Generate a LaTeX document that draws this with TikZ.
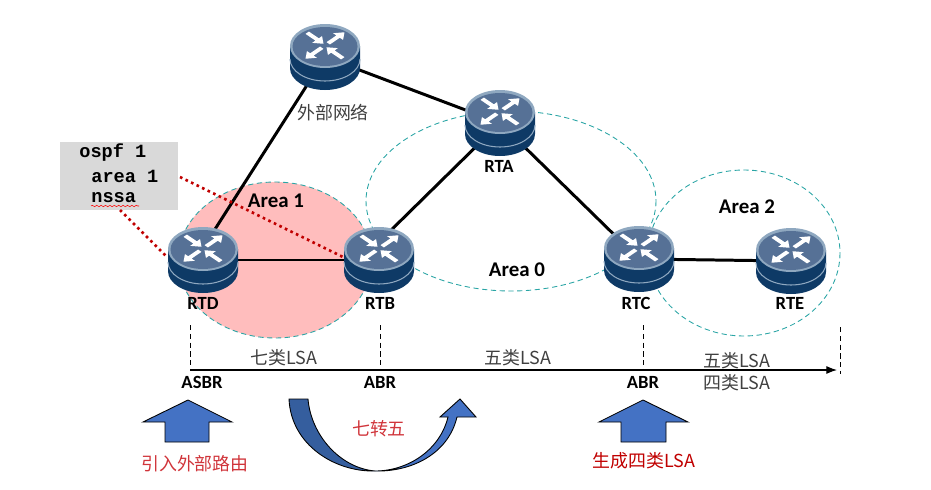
\documentclass[tikz,border=0pt]{standalone}
\usepackage{fontspec}
\setmainfont{Carlito}
\setmonofont{Liberation Mono}
\newfontfamily\cjk{Noto Sans CJK SC}
\usetikzlibrary{arrows.meta,positioning,decorations.pathmorphing}
\definecolor{routertop}{HTML}{567196}
\definecolor{routerrim}{HTML}{8FA8C0}
\definecolor{routerbody}{HTML}{0E3A66}
\definecolor{areateal}{HTML}{2AA5A5}
\definecolor{areapink}{HTML}{FFBDBD}
\definecolor{arrowblue}{HTML}{4472C4}
\definecolor{arrowdark}{HTML}{355E9E}
\definecolor{notered}{HTML}{C00000}
\definecolor{softred}{HTML}{D0343A}
\newcommand{\cjksize}{\fontsize{10.2}{12}\selectfont}
\newcommand{\latinsize}{\fontsize{10.6}{12}\selectfont}
\tikzset{
    area/.style={draw=areateal,line width=0.5pt,dash pattern=on 3pt off 2pt},
    link/.style={line width=1.7pt,black},
    note/.style={line width=1.5pt,notered,dotted},
    rtname/.style={font=\bfseries\latinsize},
    areaname/.style={font=\bfseries\fontsize{11.9}{13}\selectfont},
    tickline/.style={densely dashed,line width=0.4pt},
    lsa/.style={font=\cjk\cjksize,text=black!75},
    redtext/.style={font=\cjk\cjksize,text=softred},
    bluearrow/.style={draw=black,line width=0.5pt,fill=arrowblue},
    cfgline/.style={font=\ttfamily\bfseries\latinsize,anchor=west,inner sep=0pt}
}
% one router: body, rim, top face and the four white arrows
\newcommand{\router}[1]{%
    \begin{scope}[shift={(#1)}]
        \fill[routerbody] (-35,-11) -- (35,-11) -- (35,11) arc[start angle=0,end angle=-180,x radius=35,y radius=-22] -- cycle;
        \draw[routerrim,line width=0.6pt] (-35,2) arc[start angle=180,end angle=360,x radius=35,y radius=-22];
        \fill[routerrim] (0,-11) ellipse[x radius=35,y radius=22];
        \fill[routertop] (0,-10.5) ellipse[x radius=32.5,y radius=19.5];
        \begin{scope}[shift={(0,-11.5)},yscale=0.68]
            \foreach \a/\dx/\dy in {45/11/-11, 225/-11/11, 315/-10/-11, 135/10/11} {
                \begin{scope}[shift={(\dx,\dy)},rotate=\a]
                    \fill[white] (-11,-2.4) -- (3,-2.4) -- (3,-7) -- (12,0) -- (3,7) -- (3,2.4) -- (-11,2.4) -- cycle;
                \end{scope}
            }
        \end{scope}
    \end{scope}
}
\begin{document}
\begin{tikzpicture}[x=0.02cm,y=-0.02cm]
    \useasboundingbox (0,0) rectangle (931,490);
    % areas
    \draw[area,fill=areapink] (275,260) ellipse[x radius=97,y radius=78];
    \draw[area] (511,201) ellipse[x radius=145,y radius=90];
    \draw[area] (744,253) ellipse[x radius=96,y radius=83];
    % anchors of the routers
    \coordinate (RTD) at (203,260);
    \coordinate (RTB) at (379,260);
    \coordinate (RTA) at (500,123);
    \coordinate (RTC) at (639,259);
    \coordinate (RTE) at (791,261);
    \coordinate (EXT) at (325,57);
    \coordinate (RTDtop) at (203,248);
    \coordinate (RTBtop) at (379,242);
    % links
    \draw[link] (RTD) -- (RTB);
    \draw[link] (RTDtop) -- (EXT);
    \draw[link] (EXT) -- (RTA);
    \draw[link] (RTA) -- (RTBtop);
    \draw[link] (RTA) -- (RTC);
    \draw[link] (RTC) -- (RTE);
    % routers
    \router{RTD}
    \router{RTB}
    \router{RTA}
    \router{RTC}
    \router{RTE}
    \router{EXT}
    \node[rtname] (lblD) at (203,303) {RTD};
    \node[rtname] (lblB) at (380,303) {RTB};
    \node[rtname] (lblA) at (499,166) {RTA};
    \node[rtname] (lblC) at (636,303) {RTC};
    \node[rtname] (lblE) at (790,303) {RTE};
    \node[font=\cjk\cjksize,text=black!75] (lblExt) at (333,113) {外部网络};
    \node[areaname] (area1) at (276,201) {Area 1};
    \node[areaname] (area0) at (517,270) {Area 0};
    \node[areaname] (area2) at (747,207) {Area 2};
    % config box
    \node[fill=black!15,minimum width=2.36cm,minimum height=1.36cm,inner sep=0pt,anchor=north west] (cfg) at (60,142) {};
    \node[cfgline] (t1) at (79,153) {ospf 1};
    \node[cfgline] (t2) at (91,176) {area 1};
    \node[cfgline] (t3) at (91,198) {nssa};
    \draw[red,line width=0.3pt,decorate,decoration={snake,amplitude=0.4pt,segment length=2.5pt}] (91,206) -- (139,206);
    \coordinate (cfgA) at (180,177);
    \coordinate (cfgB) at (120,210);
    \coordinate (endB) at (345,258);
    \coordinate (endD) at (167,257);
    \draw[note] (cfgA) -- (endB);
    \draw[note] (cfgB) -- (endD);
    % timeline
    \coordinate (tlS) at (190,370);
    \coordinate (tlE) at (837,370);
    \draw[-{Latex[length=6pt]},line width=0.6pt] (tlS) -- (tlE);
    \foreach \x/\t/\b in {190/325/370, 380/325/370, 643/325/370, 840/327/374}
        \draw[tickline] (\x,\t) -- (\x,\b);
    \node[lsa] (l7) at (284,358) {七类LSA};
    \node[lsa] (l5) at (518,358) {五类LSA};
    \node[lsa] (l5b) at (737,361) {五类LSA};
    \node[lsa] (l4) at (737,383) {四类LSA};
    \node[rtname] (asbr) at (202,382) {ASBR};
    \node[rtname] (abr1) at (380,382) {ABR};
    \node[rtname] (abr2) at (643,382) {ABR};
    % block arrows
    \draw[bluearrow] (188,400) -- (232,422) -- (209,422) -- (209,442) -- (165,442) -- (165,422) -- (143,422) -- cycle;
    \draw[bluearrow] (643,400) -- (688,422) -- (666,422) -- (666,442) -- (621,442) -- (621,422) -- (599,422) -- cycle;
    % u-turn arrow
    \draw[bluearrow,fill=arrowdark] (289,399) -- (308,399) .. controls (311,435) and (340,468) .. (375,471) .. controls (335,472) and (291,445) .. cycle;
    \draw[bluearrow] (375,471) .. controls (408,471) and (440,450) .. (448,417) -- (440,417) -- (460,399) -- (476,417) -- (457,417) .. controls (448,455) and (410,472) .. cycle;
    \node[redtext] (seven) at (379,429) {七转五};
    \node[redtext] (extroute) at (195,464) {引入外部路由};
    \node[redtext,text=notered] (gen) at (644,461) {生成四类LSA};
\end{tikzpicture}
\end{document}
